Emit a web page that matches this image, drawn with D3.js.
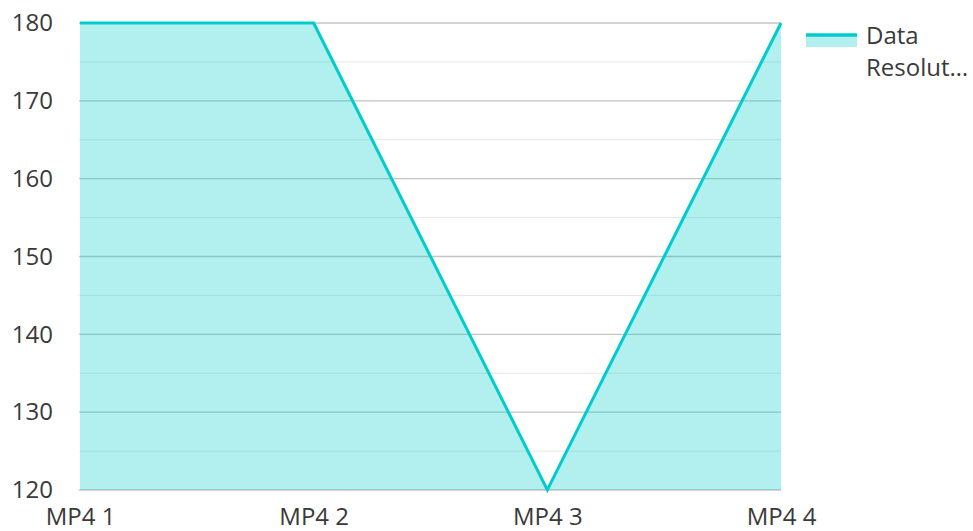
<!DOCTYPE html>
<html>
<head>
<meta charset="utf-8">
<script src="https://cdn.jsdelivr.net/npm/d3@7"></script>
<style>
  html, body { margin: 0; padding: 0; background: #fff; }
  svg { display: block; font-family: "Open Sans", "Noto Sans", sans-serif; }
</style>
</head>
<body>
<svg id="chart" width="973" height="531"></svg>
<script>
// Series data
const categories = ["MP4 1", "MP4 2", "MP4 3", "MP4 4"];
const values = [180, 180, 120, 180];
const seriesName = "Data Resolution";
const yTicks = [120, 130, 140, 150, 160, 170, 180];
const yMinorTicks = [125, 135, 145, 155, 165, 175];

const svg = d3.select("#chart");
const margin = { left: 80, right: 192, top: 23, bottom: 41 };
const W = 973, H = 531;
const fontSize = 24;
const textColor = "#3a3a3a";

const x = d3.scalePoint().domain(categories).range([margin.left, W - margin.right]).padding(0);
const y = d3.scaleLinear().domain([120, 180]).range([H - margin.bottom, margin.top]);

const lineColor = "#00cccc";
const fillColor = "rgba(0, 204, 204, 0.3)";

// Grid lines
const grid = svg.append("g");
grid.selectAll("line.minor").data(yMinorTicks).join("line")
  .attr("class", "minor")
  .attr("x1", margin.left - 1).attr("x2", W - margin.right)
  .attr("y1", d => y(d)).attr("y2", d => y(d))
  .attr("stroke", "#e6e6e6").attr("stroke-width", 1);
grid.selectAll("line.major").data(yTicks).join("line")
  .attr("class", "major")
  .attr("x1", margin.left - 1).attr("x2", W - margin.right)
  .attr("y1", d => y(d)).attr("y2", d => y(d))
  .attr("stroke", "#c4c4c4").attr("stroke-width", 1.3);

// Area and line
const pts = categories.map((c, i) => ({ c, v: values[i] }));
svg.append("path").datum(pts)
  .attr("fill", fillColor)
  .attr("d", d3.area().x(d => x(d.c)).y0(y(120)).y1(d => y(d.v)));
svg.append("path").datum(pts)
  .attr("fill", "none")
  .attr("stroke", lineColor)
  .attr("stroke-width", 3)
  .attr("stroke-linejoin", "miter")
  .attr("d", d3.line().x(d => x(d.c)).y(d => y(d.v)));

// Y axis labels
const yAxis = svg.append("g")
  .attr("transform", `translate(${margin.left - 27},0)`)
  .call(d3.axisLeft(y).tickValues(yTicks).tickSize(0).tickPadding(0).tickFormat(d3.format("d")));
yAxis.select(".domain").remove();
yAxis.selectAll("text")
  .attr("fill", textColor).attr("font-size", fontSize)
  .attr("font-family", "'Open Sans', 'Noto Sans', sans-serif");

// X axis labels
const xAxis = svg.append("g")
  .attr("transform", `translate(0,${H - margin.bottom})`)
  .call(d3.axisBottom(x).tickSize(0).tickPadding(18));
xAxis.select(".domain").remove();
xAxis.selectAll("text")
  .attr("fill", textColor).attr("font-size", fontSize)
  .attr("font-family", "'Open Sans', 'Noto Sans', sans-serif");

// Legend
const lg = svg.append("g").attr("transform", "translate(806,35)");
lg.append("rect").attr("x", 0).attr("y", 0).attr("width", 51).attr("height", 12).attr("fill", fillColor);
lg.append("line").attr("x1", 0).attr("x2", 51).attr("y1", 0).attr("y2", 0)
  .attr("stroke", lineColor).attr("stroke-width", 3.5);
const lt = lg.append("text").attr("x", 60).attr("y", 9)
  .attr("font-size", fontSize).attr("fill", textColor)
  .attr("font-family", "'Open Sans', 'Noto Sans', sans-serif");
lt.append("tspan").attr("x", 60).attr("dy", 0).text("Data");
lt.append("tspan").attr("x", 60).attr("dy", 32).text("Resolut…");
lt.append("title").text(seriesName);
</script>
</body>
</html>
